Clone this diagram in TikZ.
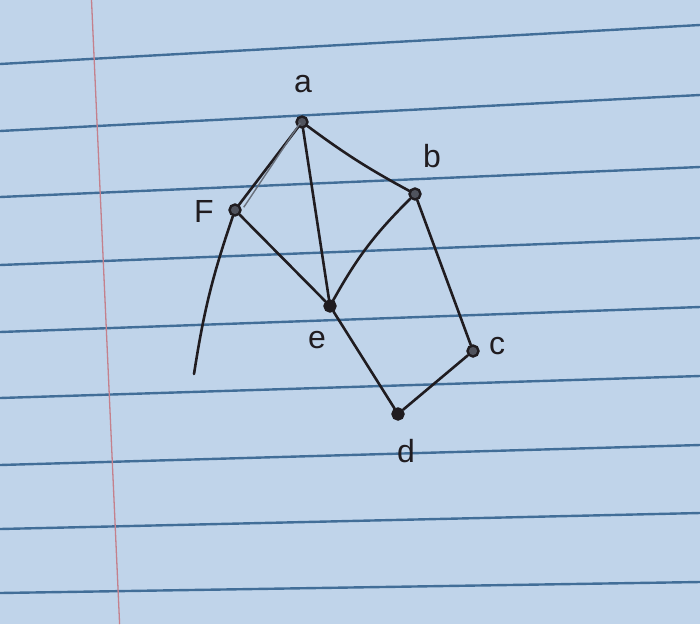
\documentclass[tikz,border=0pt]{standalone}
\usepackage{fontspec}
\setmainfont{Liberation Sans}
\definecolor{paper}{RGB}{192,212,234}
\definecolor{rule}{RGB}{66,110,152}
\definecolor{margin}{RGB}{196,128,140}
\definecolor{ink}{RGB}{32,28,32}
\begin{document}
\begin{tikzpicture}[x=1pt,y=-1pt,
  vtx/.style={circle,draw=ink,fill=ink!70!paper,line width=2.4pt,minimum size=11pt,inner sep=0pt},
  vtxf/.style={vtx,fill=ink},
  edge/.style={draw=ink,line width=2.6pt,line cap=round},
  lbl/.style={text=ink,font=\fontsize{32}{34}\selectfont,inner sep=0pt},
  ruleline/.style={draw=rule,line width=2.4pt}]
\fill[paper] (0,0) rectangle (700,624);
\useasboundingbox (0,0) rectangle (700,624);
% ruled lines
\foreach \l/\r in {64/25,131/95,197/167,265/238,332/307,398/376,465/445,529/513,593/582}
  \draw[ruleline] (0,\l) -- (700,\r);
\draw[draw=margin,line width=1.3pt] (91.5,0) -- (119.6,624);
% vertices
\node[vtx] (a) at (302,122) {};
\node[vtx] (b) at (415,194) {};
\node[vtx] (f) at (235,210) {};
\node[vtxf] (e) at (330,306) {};
\node[vtx] (c) at (473,351) {};
\node[vtxf] (d) at (398,414) {};
\coordinate (t) at (194,374);
% edges
\draw[edge] (a) to[bend right=4] (b);
\draw[edge] (a) -- (f);
\draw[draw=ink!55!paper,line width=1.4pt] ([xshift=3pt,yshift=4pt]a.south west) -- ([xshift=4pt,yshift=-2pt]f.north east);
\draw[edge] (a) -- (e);
\draw[edge] (f) -- (e);
\draw[edge] (b) to[bend right=8] (e);
\draw[edge] (b) -- (c);
\draw[edge] (e) -- (d);
\draw[edge] (c) -- (d);
\draw[edge] (f) to[bend right=5] (t);
% labels
\node[lbl] (la) at (303,84) {a};
\node[lbl] (lb) at (432,156) {b};
\node[lbl] (lf) at (204,211) {F};
\node[lbl] (le) at (317,340) {e};
\node[lbl] (lc) at (497,346) {c};
\node[lbl] (ld) at (406,451) {d};
\end{tikzpicture}
\end{document}
